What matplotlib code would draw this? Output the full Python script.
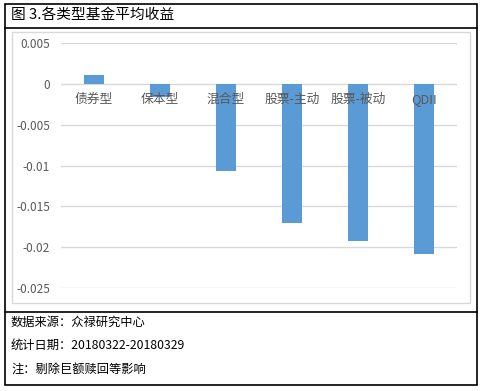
import matplotlib
matplotlib.use("Agg")
import matplotlib.pyplot as plt
from matplotlib.lines import Line2D
from matplotlib.patches import Rectangle

plt.rcParams["font.family"] = ["Noto Sans CJK SC", "DejaVu Sans"]

categories = ["债券型", "保本型", "混合型", "股票-主动", "股票-被动", "QDII"]
returns = [0.0011, -0.0016, -0.0107, -0.0171, -0.0193, -0.0208]
yticks = [0.005, 0, -0.005, -0.01, -0.015, -0.02, -0.025]
ytick_labels = ["0.005", "0", "-0.005", "-0.01", "-0.015", "-0.02", "-0.025"]

title = "图 3.各类型基金平均收益"
notes = ["数据来源：众禄研究中心", "统计日期：20180322-20180329", "注：剔除巨额赎回等影响"]

W, H = 481, 391
fig = plt.figure(figsize=(W / 100, H / 100), dpi=100)


def fx(px):
    return px / W


def fy(py):
    return 1 - py / H


# outer frame and separators
fig.add_artist(Rectangle((fx(5), fy(385)), fx(477) - fx(5), fy(4) - fy(385),
                         fill=False, edgecolor="black", lw=1.2, transform=fig.transFigure))
fig.add_artist(Line2D([fx(5), fx(477)], [fy(28), fy(28)], color="black", lw=1.2,
                      transform=fig.transFigure))
fig.add_artist(Line2D([fx(5), fx(477)], [fy(312), fy(312)], color="black", lw=1.2,
                      transform=fig.transFigure))
# light chart border
fig.add_artist(Rectangle((fx(12), fy(303)), fx(470) - fx(12), fy(32) - fy(303),
                         fill=False, edgecolor="#d9d9d9", lw=1, transform=fig.transFigure))

fig.text(fx(11), fy(15), title, fontsize=10.6, va="center", ha="left", color="black")
for i, s in enumerate(notes):
    fig.text(fx(11), fy(322 + 23.5 * i), s, fontsize=8.8, va="center", ha="left", color="black")

ax = fig.add_axes([fx(61), fy(288), fx(457) - fx(61), fy(43) - fy(288)])
x = list(range(len(categories)))
ax.bar(x, returns, width=0.3, color="#5b9bd5", zorder=3)
ax.set_xlim(-0.5, len(categories) - 0.5)
ax.set_ylim(-0.025, 0.005)
ax.set_yticks(yticks)
ax.set_yticklabels(ytick_labels, fontsize=8.5, color="#595959")
ax.tick_params(axis="y", length=0, pad=8)
ax.set_xticks([])
ax.grid(axis="y", color="#d9d9d9", lw=1, zorder=0)
for sp in ax.spines.values():
    sp.set_visible(False)

for xi, c in zip(x, categories):
    ax.text(xi, -0.0019, c, ha="center", va="center", fontsize=9.2, color="#595959", zorder=4)

fig.savefig("out.png", dpi=100)
